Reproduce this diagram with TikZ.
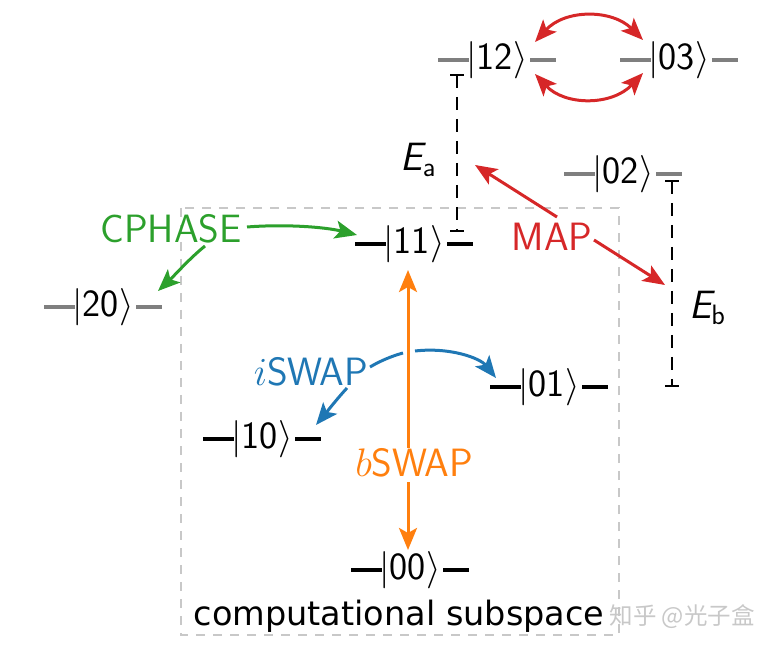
\documentclass[tikz,border=0pt]{standalone}
\usepackage{fontspec}
\setmainfont{DejaVu Sans}
\newfontfamily\cjkwm{Noto Sans CJK SC}
\usetikzlibrary{arrows.meta,calc}
\definecolor{tred}{HTML}{D62728}
\definecolor{tgreen}{HTML}{2CA02C}
\definecolor{tblue}{HTML}{1F77B4}
\definecolor{torange}{HTML}{FF7F0E}
\definecolor{tgray}{HTML}{7F7F7F}
\definecolor{boxgray}{HTML}{C8C8C8}
\newcommand{\mbig}[1]{\scalebox{1.5}{\fontsize{24.88}{30}\selectfont$#1$}}
\newcommand{\mital}[1]{\scalebox{1.6}{\fontsize{24.88}{30}\selectfont$#1$}}
\newcommand{\ketlevel}[5]{%
  \node[ketnode] (#1) at (#2,#3) {\mbig{|}#5\mbig{\rangle}};
  \draw[line width=4.4pt,#4] ($(#1.center)+(-59,0)$) -- ($(#1.center)+(-28,0)$);
  \draw[line width=4.4pt,#4] ($(#1.center)+(33,0)$) -- ($(#1.center)+(59,0)$);
}
\tikzset{
  ketnode/.style={inner sep=0pt,font=\sffamily\fontsize{38.5}{46}\selectfont,text=black},
  lbl/.style={inner sep=0pt,font=\sffamily\fontsize{39.5}{47}\selectfont},
  arr/.style={line width=3pt,-{Stealth[length=22pt,width=18pt,inset=5pt]}},
  dbl/.style={line width=3pt,{Stealth[length=22pt,width=18pt,inset=5pt]}-{Stealth[length=22pt,width=18pt,inset=5pt]}},
  span/.style={line width=1.8pt,black,dash pattern=on 13pt off 9pt},
  spancap/.style={line width=2.2pt,black},
}
\begin{document}
\begin{tikzpicture}[x=1pt,y=-1pt]
\useasboundingbox (0,0) rectangle (772,647);
% computational subspace box
\draw[boxgray,line width=1.6pt,dash pattern=on 9pt off 8pt] (181,208) rectangle (619,635);
% levels
\ketlevel{kb}{497}{60}{tgray}{12}
\ketlevel{kc}{679}{60}{tgray}{03}
\ketlevel{kd}{623}{174}{tgray}{02}
\ketlevel{ke}{414}{244}{black}{11}
\ketlevel{kf}{103}{307}{tgray}{20}
\ketlevel{kg}{262}{439}{black}{10}
\ketlevel{kh}{549}{387}{black}{01}
\ketlevel{ki}{410}{570}{black}{00}
% labels
\node[lbl,text=tgreen] (cp) at (171,229) {CPHASE};
\node[lbl,text=tblue] (is) at (311,372) {\mital{i}SWAP};
\node[lbl,text=torange] (bs) at (414,463) {\mital{b}SWAP};
\node[lbl,text=tred] (mp) at (552,237) {MAP};
\node[inner sep=0pt,text=black,anchor=base,font=\fontsize{33.5}{40}\selectfont] (cs) at (399,625) {computational subspace};
\node[lbl,text=black] (ea) at (418,160) {\slshape E\raisebox{-6pt}{\upshape\fontsize{28}{32}\selectfont a}};
\node[lbl,text=black] (eb) at (707,308) {\slshape E\raisebox{-6pt}{\upshape\fontsize{28}{32}\selectfont b}};
\node[inner sep=0pt,text=boxgray,font=\fontsize{23.5}{28}\selectfont\cjkwm] (wm) at (682,617) {知乎 @光子盒};
% energy spans
\coordinate (eat) at (457,75); \coordinate (eab) at (457,231);
\coordinate (ebt) at (672,181); \coordinate (ebb) at (672,386);
\draw[span] (eat) -- (eab);
\draw[span] (ebt) -- (ebb);
\foreach \c in {eat,eab,ebt,ebb}
  \draw[spancap] ($(\c)+(-7,0)$) -- ($(\c)+(7,0)$);
% red couplings
\coordinate (rtl) at (535,42); \coordinate (rtr) at (643,40);
\coordinate (rbl) at (535,74); \coordinate (rbr) at (643,73);
\draw[dbl,tred] (rtl) .. controls (565,9) and (612,9) .. (rtr);
\draw[dbl,tred] (rbl) .. controls (565,106) and (612,106) .. (rbr);
\coordinate (mapa) at (475,165); \coordinate (mapb) at (665,285);
\draw[arr,tred] (557,217) -- (mapa);
\draw[arr,tred] (594,240) -- (mapb);
% CPHASE
\coordinate (cpa) at (357,235); \coordinate (cpb) at (158,291);
\draw[arr,tgreen] (247,227) .. controls (285,224) and (325,227) .. (cpa);
\draw[arr,tgreen] (205,246) .. controls (190,258) and (175,275) .. (cpb);
% iSWAP
\coordinate (isa) at (496,378); \coordinate (isb) at (316,425);
\draw[line width=3pt,tblue] (370,367) .. controls (380,361) and (392,356) .. (403,353);
\draw[arr,tblue] (415,351) .. controls (450,347) and (480,358) .. (isa);
\draw[arr,tblue] (347,388) .. controls (336,400) and (326,413) .. (isb);
% bSWAP
\coordinate (bsa) at (408,270); \coordinate (bsb) at (408,550);
\draw[arr,torange] (408,448) -- (bsa);
\draw[arr,torange] (408,482) -- (bsb);
\end{tikzpicture}
\end{document}
